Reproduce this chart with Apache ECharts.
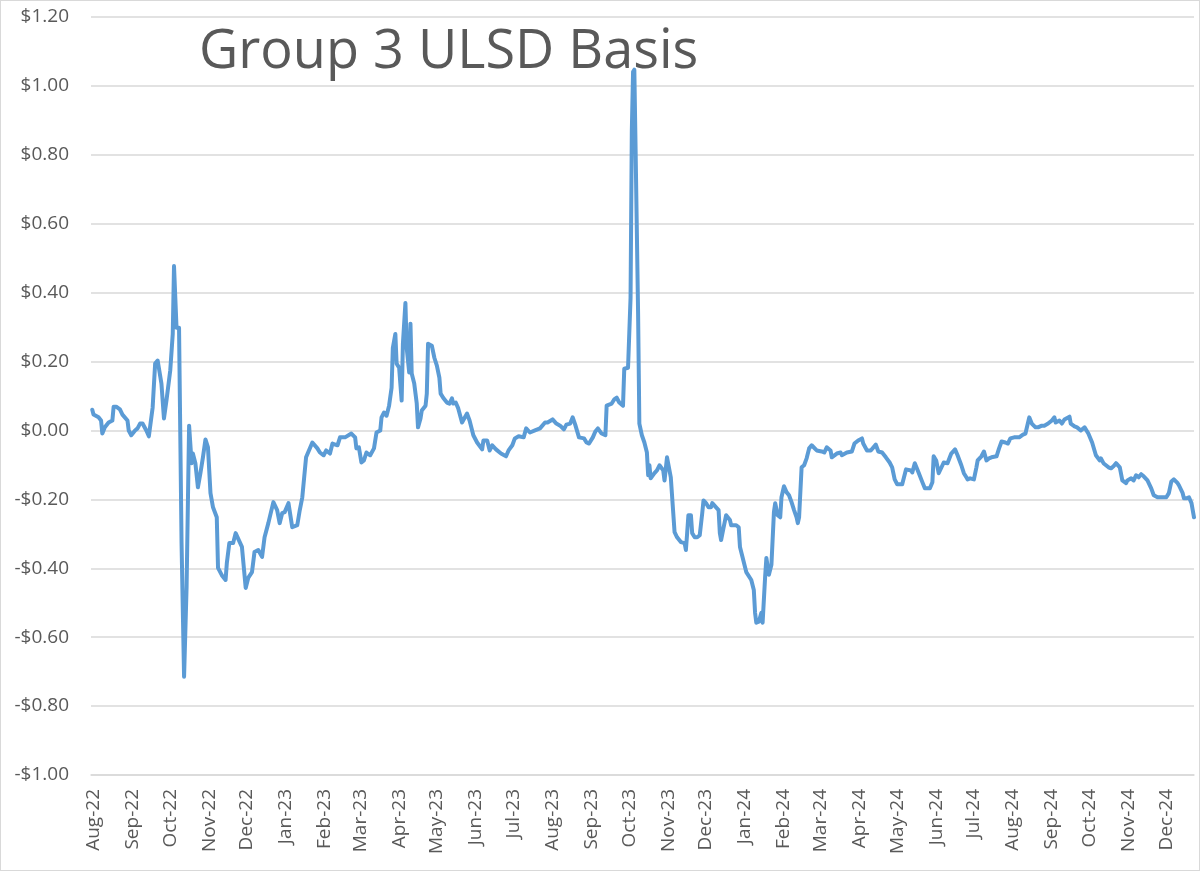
<!DOCTYPE html>
<html>
<head>
<meta charset="utf-8">
<script src="https://cdn.jsdelivr.net/npm/echarts@6/dist/echarts.min.js"></script>
<style>
html,body{margin:0;padding:0;background:#fff;}
#c{width:1200px;height:871px;box-sizing:border-box;border:1px solid #d9d9d9;}
</style>
</head>
<body>
<div id="c"></div>
<script>
// ---- DATA ----
const chartTitle = "Group 3 ULSD Basis";
const startDate = "2022-07-30";
const endDate = "2024-12-23";
const yTicks = { min: -1.0, max: 1.2, step: 0.2 };
const monthNames = ["Jan","Feb","Mar","Apr","May","Jun","Jul","Aug","Sep","Oct","Nov","Dec"];

const obsDates = [
"2022-07-31","2022-08-01","2022-08-05","2022-08-07","2022-08-08","2022-08-10","2022-08-13","2022-08-16","2022-08-17","2022-08-19","2022-08-22","2022-08-24","2022-08-28","2022-08-29","2022-08-31",
"2022-09-03","2022-09-05","2022-09-07","2022-09-09","2022-09-12","2022-09-14","2022-09-17","2022-09-19","2022-09-21","2022-09-24","2022-09-26","2022-09-28",
"2022-10-01","2022-10-03","2022-10-04","2022-10-05","2022-10-06","2022-10-08","2022-10-10","2022-10-12","2022-10-14","2022-10-16","2022-10-18","2022-10-19","2022-10-21","2022-10-23","2022-10-25","2022-10-27","2022-10-29","2022-10-31",
"2022-11-02","2022-11-04","2022-11-07","2022-11-08","2022-11-11","2022-11-14","2022-11-15","2022-11-17","2022-11-20","2022-11-22","2022-11-23","2022-11-27","2022-11-30",
"2022-12-02","2022-12-05","2022-12-07","2022-12-10","2022-12-13","2022-12-15","2022-12-18","2022-12-22","2022-12-25","2022-12-27","2022-12-29","2022-12-31",
"2023-01-03","2023-01-06","2023-01-10","2023-01-12","2023-01-14","2023-01-17","2023-01-22","2023-01-26","2023-01-28","2023-01-31",
"2023-02-02","2023-02-05","2023-02-07","2023-02-11","2023-02-13","2023-02-17","2023-02-22","2023-02-25","2023-02-26","2023-02-28",
"2023-03-02","2023-03-04","2023-03-06","2023-03-09","2023-03-12","2023-03-14","2023-03-17","2023-03-18","2023-03-20","2023-03-22","2023-03-24","2023-03-26","2023-03-27","2023-03-29","2023-03-30",
"2023-04-01","2023-04-03","2023-04-04","2023-04-06","2023-04-07","2023-04-09","2023-04-10","2023-04-11","2023-04-13","2023-04-15","2023-04-16","2023-04-18","2023-04-19","2023-04-22","2023-04-23","2023-04-24","2023-04-27","2023-04-29",
"2023-05-01","2023-05-03","2023-05-04","2023-05-06","2023-05-09","2023-05-11","2023-05-13","2023-05-14","2023-05-16","2023-05-18","2023-05-21","2023-05-25","2023-05-27","2023-05-30",
"2023-06-02","2023-06-03","2023-06-06","2023-06-07","2023-06-10","2023-06-12","2023-06-14","2023-06-17","2023-06-21","2023-06-25","2023-06-27","2023-06-30",
"2023-07-02","2023-07-05","2023-07-09","2023-07-11","2023-07-14","2023-07-18","2023-07-22","2023-07-26","2023-07-28",
"2023-08-01","2023-08-04","2023-08-07","2023-08-10","2023-08-12","2023-08-15","2023-08-17","2023-08-19","2023-08-22","2023-08-26","2023-08-28","2023-08-30",
"2023-09-02","2023-09-04","2023-09-06","2023-09-09","2023-09-12","2023-09-13","2023-09-17","2023-09-19","2023-09-21","2023-09-23","2023-09-26","2023-09-27","2023-09-30",
"2023-10-02","2023-10-03","2023-10-04","2023-10-05","2023-10-06","2023-10-08","2023-10-09","2023-10-11","2023-10-13","2023-10-15","2023-10-16","2023-10-17","2023-10-18","2023-10-21","2023-10-23","2023-10-25","2023-10-28","2023-10-29","2023-10-31",
"2023-11-01","2023-11-03","2023-11-06","2023-11-08","2023-11-11","2023-11-14","2023-11-15","2023-11-16","2023-11-17","2023-11-19","2023-11-20","2023-11-22","2023-11-24","2023-11-26","2023-11-28","2023-11-29",
"2023-12-01","2023-12-03","2023-12-05","2023-12-06","2023-12-09","2023-12-11","2023-12-12","2023-12-13","2023-12-15","2023-12-17","2023-12-20","2023-12-21","2023-12-25","2023-12-27","2023-12-28","2023-12-30",
"2024-01-02","2024-01-03","2024-01-06","2024-01-08","2024-01-09","2024-01-10","2024-01-12","2024-01-14","2024-01-15","2024-01-17","2024-01-18","2024-01-20","2024-01-22","2024-01-24","2024-01-25","2024-01-27","2024-01-29","2024-01-30",
"2024-02-01","2024-02-03","2024-02-05","2024-02-07","2024-02-09","2024-02-11","2024-02-12","2024-02-13","2024-02-15","2024-02-17","2024-02-19","2024-02-21","2024-02-23","2024-02-27",
"2024-03-02","2024-03-04","2024-03-06","2024-03-09","2024-03-10","2024-03-14","2024-03-17","2024-03-18","2024-03-22","2024-03-26","2024-03-28","2024-03-31",
"2024-04-03","2024-04-04","2024-04-07","2024-04-10","2024-04-14","2024-04-16","2024-04-19","2024-04-22","2024-04-23","2024-04-25","2024-04-27","2024-04-29",
"2024-05-01","2024-05-05","2024-05-08","2024-05-12","2024-05-13","2024-05-15","2024-05-18","2024-05-21","2024-05-23","2024-05-27","2024-05-29","2024-05-30",
"2024-06-01","2024-06-03","2024-06-06","2024-06-07","2024-06-10","2024-06-13","2024-06-16","2024-06-18","2024-06-21","2024-06-23","2024-06-25","2024-06-26","2024-06-28",
"2024-07-01","2024-07-03","2024-07-04","2024-07-07","2024-07-09","2024-07-11","2024-07-13","2024-07-15","2024-07-19","2024-07-21","2024-07-23","2024-07-26","2024-07-28","2024-07-30",
"2024-08-02","2024-08-06","2024-08-09","2024-08-11","2024-08-14","2024-08-16","2024-08-19","2024-08-21","2024-08-24","2024-08-26","2024-08-29",
"2024-09-01","2024-09-03","2024-09-04","2024-09-07","2024-09-09","2024-09-11","2024-09-15","2024-09-16","2024-09-19","2024-09-21","2024-09-24","2024-09-27","2024-09-28","2024-09-30",
"2024-10-03","2024-10-06","2024-10-09","2024-10-10","2024-10-12","2024-10-14","2024-10-16","2024-10-18","2024-10-20","2024-10-22","2024-10-25","2024-10-27","2024-10-30","2024-10-31",
"2024-11-03","2024-11-05","2024-11-07","2024-11-09","2024-11-11","2024-11-13","2024-11-16","2024-11-19","2024-11-21","2024-11-24","2024-11-28",
"2024-12-01","2024-12-03","2024-12-05","2024-12-07","2024-12-10","2024-12-11","2024-12-14","2024-12-15","2024-12-17","2024-12-19","2024-12-21","2024-12-23"
];

const basisValues = [
0.06,0.046,0.038,0.029,-0.009,0.009,0.023,0.029,0.069,0.069,0.061,0.046,0.029,0.0,-0.014,
0.0,0.006,0.02,0.02,0.0,-0.017,0.066,0.194,0.203,0.136,0.035,0.087,
0.174,0.28,0.477,0.477,0.298,0.298,-0.327,-0.715,-0.454,0.014,-0.095,-0.067,-0.095,-0.165,-0.124,-0.078,-0.026,-0.049,
-0.182,-0.223,-0.252,-0.399,-0.42,-0.434,-0.385,-0.327,-0.327,-0.298,-0.298,-0.338,-0.457,
-0.428,-0.411,-0.353,-0.347,-0.367,-0.31,-0.269,-0.208,-0.231,-0.269,-0.24,-0.237,
-0.211,-0.281,-0.275,-0.231,-0.194,-0.078,-0.035,-0.052,-0.064,-0.072,
-0.058,-0.067,-0.038,-0.043,-0.02,-0.02,-0.009,-0.02,-0.052,-0.049,
-0.093,-0.087,-0.064,-0.072,-0.052,-0.006,0.0,0.038,0.052,0.043,0.072,0.124,0.24,0.28,0.194,
0.182,0.087,0.252,0.37,0.24,0.168,0.31,0.165,0.136,0.078,0.009,0.035,0.058,0.072,0.107,0.252,0.246,0.211,
0.188,0.153,0.107,0.095,0.081,0.078,0.093,0.078,0.081,0.064,0.023,0.049,0.029,-0.014,
-0.035,-0.038,-0.055,-0.029,-0.029,-0.058,-0.043,-0.055,-0.067,-0.075,-0.058,-0.043,
-0.023,-0.017,-0.02,0.006,-0.006,0.0,0.006,0.023,0.023,
0.032,0.02,0.014,0.003,0.017,0.02,0.038,0.017,-0.02,-0.023,-0.035,-0.038,
-0.02,-0.003,0.006,-0.009,-0.014,0.072,0.078,0.09,0.095,0.081,0.072,0.179,0.182,
0.385,0.868,1.041,1.047,0.818,0.338,0.02,-0.014,-0.035,-0.064,-0.13,-0.101,-0.139,-0.124,-0.116,-0.101,-0.116,-0.145,-0.078,
-0.078,-0.136,-0.295,-0.31,-0.324,-0.327,-0.347,-0.298,-0.246,-0.246,-0.298,-0.31,-0.31,-0.304,-0.24,-0.203,
-0.211,-0.223,-0.223,-0.211,-0.223,-0.231,-0.298,-0.318,-0.281,-0.246,-0.26,-0.275,-0.275,-0.281,-0.338,-0.367,
-0.411,-0.414,-0.434,-0.463,-0.529,-0.558,-0.555,-0.529,-0.558,-0.425,-0.37,-0.419,-0.39,-0.237,-0.211,-0.246,-0.252,-0.194,
-0.162,-0.179,-0.188,-0.208,-0.231,-0.252,-0.269,-0.252,-0.107,-0.101,-0.081,-0.052,-0.043,-0.058,
-0.061,-0.064,-0.049,-0.058,-0.078,-0.067,-0.064,-0.072,-0.064,-0.061,-0.038,-0.029,
-0.023,-0.038,-0.058,-0.058,-0.041,-0.061,-0.064,-0.078,-0.075,-0.093,-0.107,-0.142,
-0.156,-0.156,-0.113,-0.116,-0.122,-0.095,-0.122,-0.15,-0.168,-0.168,-0.15,-0.075,
-0.087,-0.124,-0.101,-0.093,-0.095,-0.067,-0.055,-0.072,-0.101,-0.124,-0.136,-0.142,-0.139,
-0.142,-0.107,-0.087,-0.075,-0.061,-0.087,-0.081,-0.078,-0.075,-0.052,-0.032,-0.035,-0.038,-0.023,
-0.02,-0.02,-0.012,-0.009,0.038,0.02,0.009,0.009,0.014,0.014,0.02,
0.029,0.038,0.023,0.029,0.02,0.032,0.04,0.02,0.012,0.009,0.0,0.009,0.012,-0.009,
-0.035,-0.072,-0.087,-0.081,-0.095,-0.101,-0.107,-0.11,-0.104,-0.095,-0.107,-0.145,-0.153,-0.145,
-0.139,-0.145,-0.13,-0.136,-0.127,-0.133,-0.145,-0.168,-0.188,-0.194,-0.194,
-0.194,-0.182,-0.148,-0.142,-0.153,-0.159,-0.182,-0.197,-0.197,-0.194,-0.211,-0.252
];

// ---- build calendar-day categories ----
function fmt(d){
  const m = d.getUTCMonth()+1, day = d.getUTCDate();
  return d.getUTCFullYear()+"-"+(m<10?"0":"")+m+"-"+(day<10?"0":"")+day;
}
const categories = [];
for (let d = new Date(startDate+"T00:00:00Z"); fmt(d) <= endDate; d.setUTCDate(d.getUTCDate()+1)) {
  categories.push(fmt(d));
}
const lookup = {};
obsDates.forEach((d,i)=>{ lookup[d] = basisValues[i]; });
const seriesData = categories.map(c => (c in lookup) ? lookup[c] : null);

const chart = echarts.init(document.getElementById('c'));
const labelColor = '#595959';
const font = '"Open Sans", "Noto Sans", sans-serif';

chart.setOption({
  animation: false,
  backgroundColor: '#ffffff',
  title: {
    text: chartTitle,
    left: 193, top: 20,
    textStyle: { fontFamily: font, fontSize: 54, fontWeight: 'normal', color: labelColor }
  },
  grid: { left: 90, right: 5, top: 16, bottom: 95, containLabel: false },
  xAxis: {
    type: 'category',
    data: categories,
    boundaryGap: false,
    axisLine: { onZero: false, lineStyle: { color: '#d9d9d9', width: 1.5 } },
    axisTick: { show: false },
    splitLine: { show: false },
    axisLabel: {
      rotate: 90,
      margin: 14,
      color: labelColor,
      fontFamily: font,
      fontSize: 19,
      interval: (idx, val) => val.slice(8) === '01',
      formatter: (val) => {
        const m = parseInt(val.slice(5,7),10)-1;
        return monthNames[m] + '-' + val.slice(2,4);
      }
    }
  },
  yAxis: {
    type: 'value',
    min: yTicks.min, max: yTicks.max, interval: yTicks.step,
    axisLine: { show: false },
    axisTick: { show: false },
    splitLine: { lineStyle: { color: '#d9d9d9', width: 1.5 } },
    axisLabel: {
      margin: 22,
      color: labelColor,
      fontFamily: font,
      fontSize: 19,
      formatter: (v) => (v < -1e-9 ? '-' : '') + '$' + Math.abs(v).toFixed(2)
    }
  },
  series: [{
    type: 'line',
    data: seriesData,
    connectNulls: true,
    showSymbol: false,
    symbol: 'none',
    lineStyle: { color: '#5B9BD5', width: 4, join: 'round', cap: 'round' },
    z: 3
  }]
});
</script>
</body>
</html>
